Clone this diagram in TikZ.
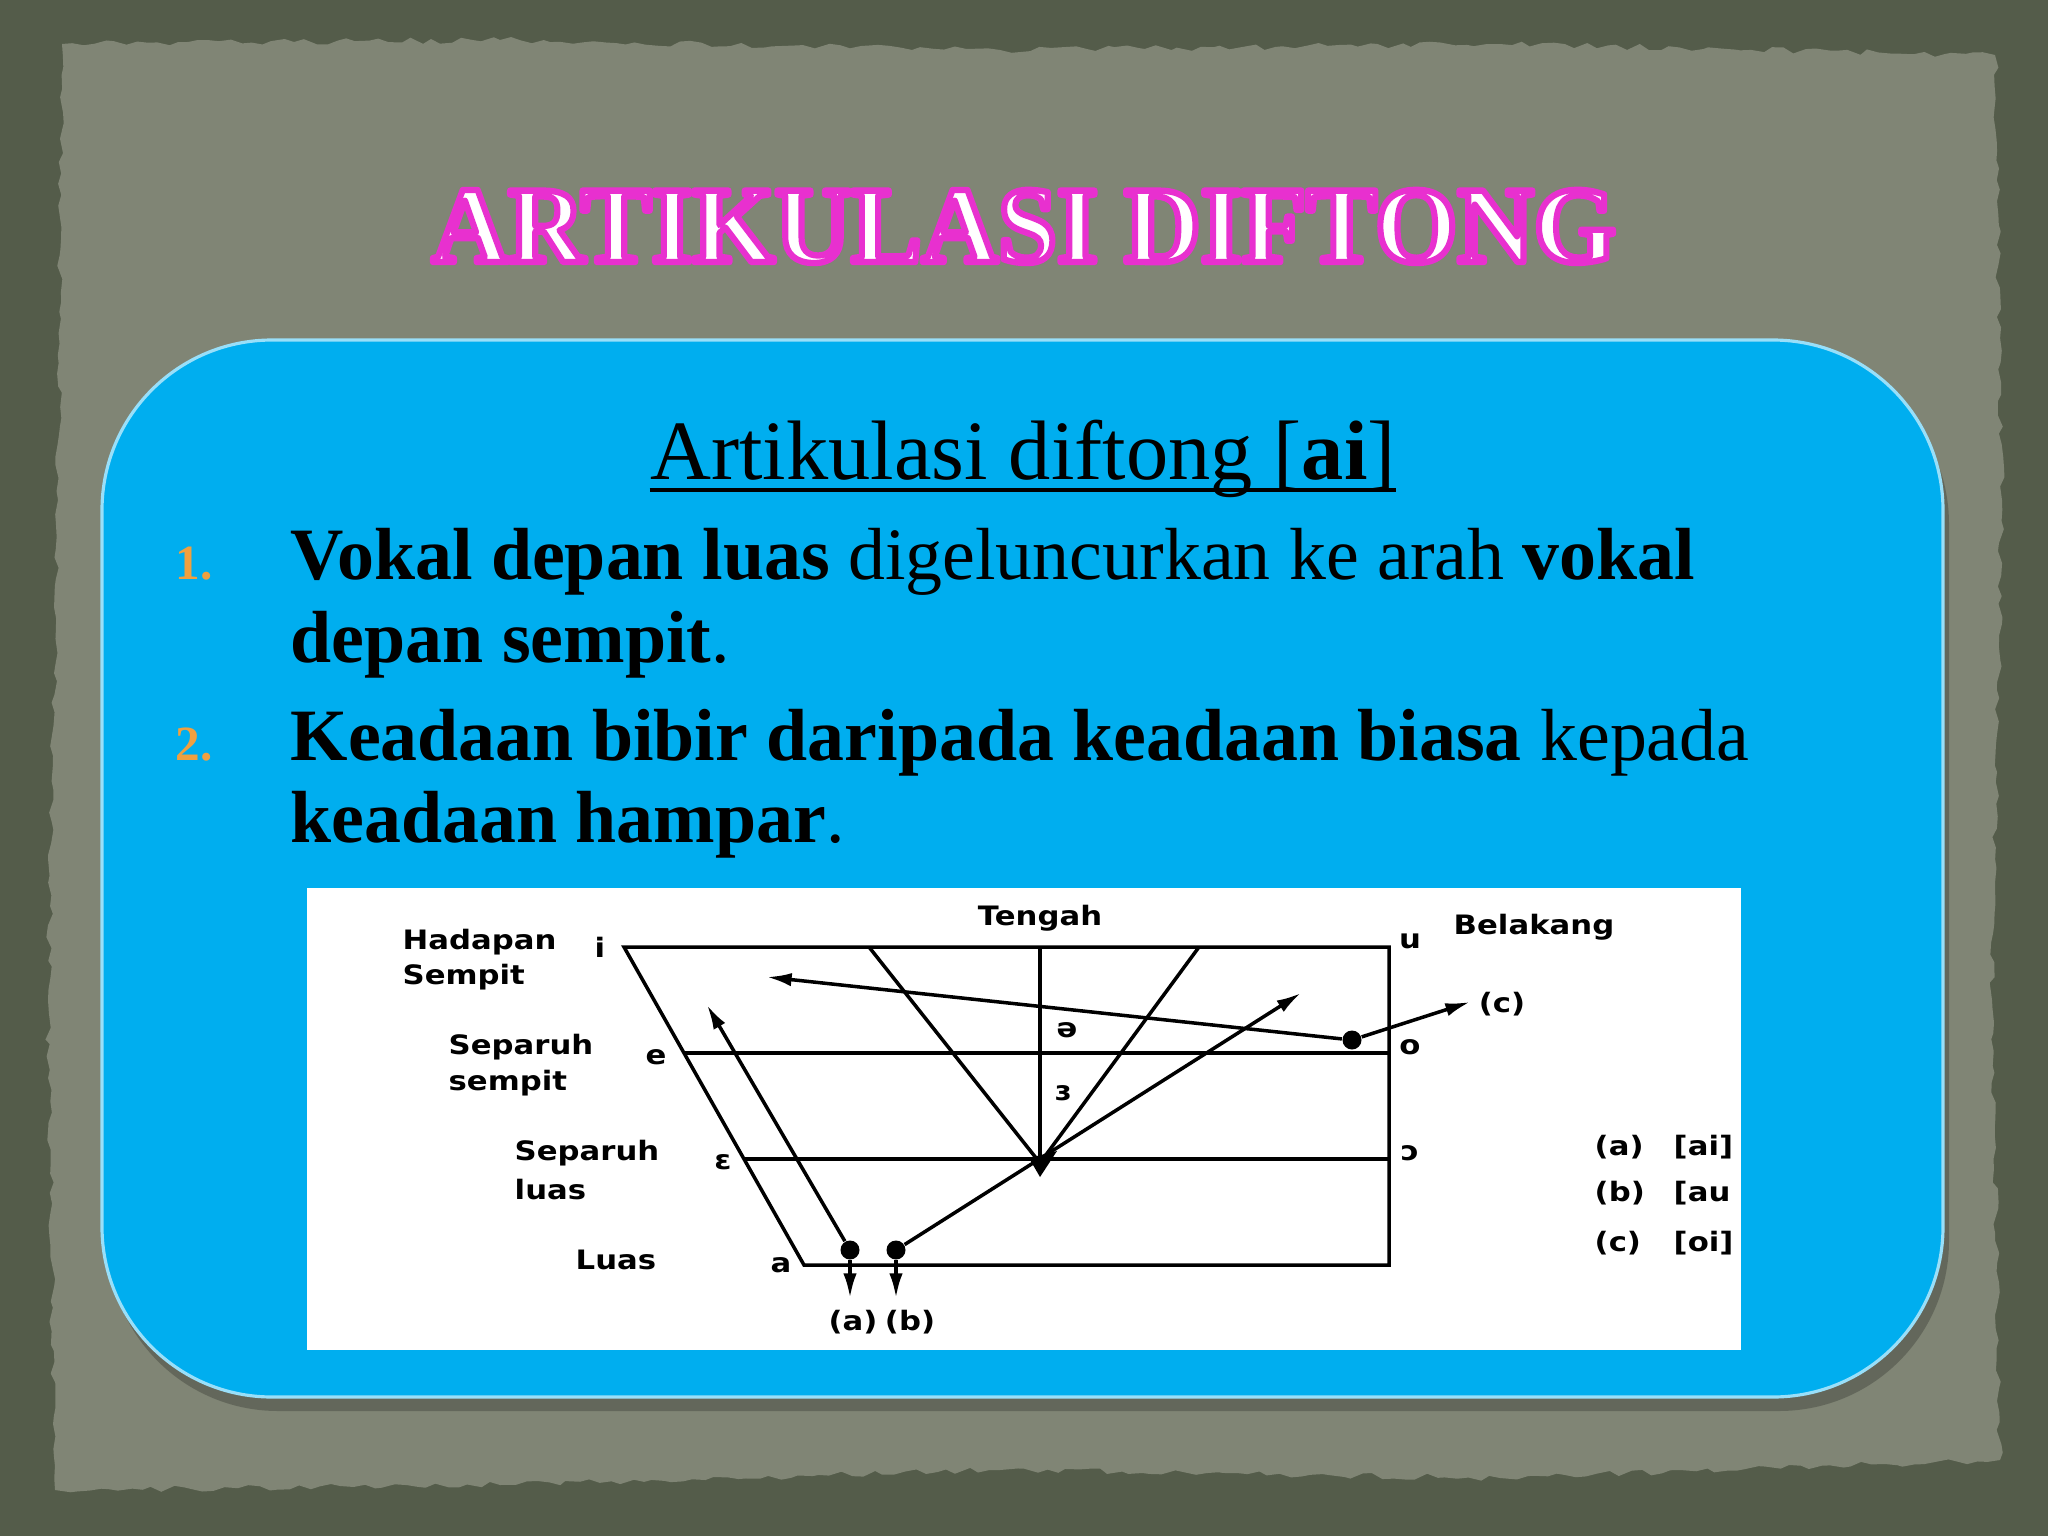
\documentclass[tikz,border=0pt]{standalone}
\usepackage{fontspec}
\setmainfont{Liberation Serif}
\newfontfamily\diagfont[FakeStretch=1.15]{DejaVu Sans}
\usetikzlibrary{arrows.meta,decorations.pathmorphing,positioning}

\definecolor{outerbg}{RGB}{84,92,74}
\definecolor{paper}{RGB}{128,133,117}
\definecolor{boxblue}{RGB}{0,174,239}
\definecolor{titlepink}{RGB}{232,48,206}
\definecolor{numorange}{RGB}{240,160,64}

% pink outline round white letters, one text only
\newcommand{\outlined}[1]{\special{pdf:literal direct 1 j 1.8 w 0.91 0.19 0.81 RG 2 Tr}#1\special{pdf:literal direct 0 Tr 0.4 w}}

\tikzset{
  titletxt/.style={anchor=base, inner sep=0pt, font=\fontsize{31}{35}\selectfont\bfseries},
  body/.style={anchor=base west, inner sep=0pt, font=\fontsize{21}{25}\selectfont},
  num/.style={anchor=base west, inner sep=0pt, text=numorange, font=\fontsize{14}{16}\selectfont\bfseries},
  lbl/.style={inner sep=0pt, font=\diagfont\bfseries\fontsize{7.6}{9}\selectfont},
  vline/.style={line width=1pt},
  arr/.style={line width=1pt, -{Latex[length=7pt,width=3.8pt]}},
  dot/.style={circle, fill=black, inner sep=0pt, minimum size=5.4pt}
}

\begin{document}
\begin{tikzpicture}[x=0.01cm, y=-0.01cm]
  \useasboundingbox (0,0) rectangle (2048,1536);
  \fill[outerbg] (0,0) rectangle (2048,1536);
  \pgfmathsetseed{7}
  \fill[paper, decorate, decoration={random steps, segment length=3pt, amplitude=0.9pt}]
    (62,44) -- (500,40) -- (1000,50) -- (1500,44) -- (1995,55) -- (2002,500) -- (1992,1000)
    -- (2000,1460) -- (1500,1478) -- (1000,1470) -- (500,1485) -- (55,1490) -- (48,1000)
    -- (58,500) -- cycle;

  % title
  \node[titletxt, text=white, xscale=0.97] (title) at (1024,262) {\outlined{ARTIKULASI DIFTONG}};

  % blue panel
  \fill[black, opacity=0.22, rounded corners=1.7cm] (108,354) rectangle (1949,1411);
  \draw[fill=boxblue, draw=boxblue!40!white, line width=0.9pt, rounded corners=1.7cm]
    (102,340) rectangle (1943,1397);

  \node[anchor=base, inner sep=0pt, font=\fontsize{24}{28}\selectfont] (sub) at (1023,479)
    {Artikulasi diftong [\textbf{ai}]};
  \draw[line width=1pt] ([yshift=-3.1pt]sub.base west) -- ([yshift=-3.1pt]sub.base east);

  \node[num] (n1) at (175,579) {1.};
  \node[body] (l1) at (290,579) {\textbf{Vokal depan luas} digeluncurkan ke arah \textbf{vokal}};
  \node[body] (l2) at (290,662) {\textbf{depan sempit}.};
  \node[num] (n2) at (175,760) {2.};
  \node[body] (l3) at (290,760) {\textbf{Keadaan bibir daripada keadaan biasa} kepada};
  \node[body] (l4) at (290,842) {\textbf{keadaan hampar}.};

  % vowel chart
  \fill[white] (307,888) rectangle (1741,1350);
  \coordinate (i) at (624,947);
  \coordinate (u) at (1389,947);
  \coordinate (a) at (804,1265);
  \coordinate (ar) at (1389,1265);
  \coordinate (e) at (684,1053);
  \coordinate (o) at (1389,1053);
  \coordinate (eps) at (744,1159);
  \coordinate (oo) at (1389,1159);
  \coordinate (mt) at (1040,947);
  \coordinate (mb) at (1040,1163);
  \coordinate (vl) at (869,947);
  \coordinate (vr) at (1199,947);
  \draw[vline] (i) -- (u) -- (ar) -- (a) -- cycle;
  \draw[vline] (e) -- (o);
  \draw[vline] (eps) -- (oo);
  \draw[vline] (mt) -- (mb);
  \draw[vline] (vl) -- (mb) -- (vr);
  \fill (1029,1158) -- (1057,1151) -- (1040,1177) -- cycle;

  \node[dot] (da) at (850,1250) {};
  \node[dot] (db) at (896,1250) {};
  \node[dot] (dc) at (1352,1040) {};
  \coordinate (ta) at (707,1005);
  \coordinate (tb) at (1301,993);
  \coordinate (tc) at (767,977);
  \coordinate (tcc) at (1470,1002);
  \coordinate (ba) at (850,1298);
  \coordinate (bb) at (896,1298);
  \draw[arr] (da) -- (ta);
  \draw[arr] (db) -- (tb);
  \draw[arr] (dc) -- (tc);
  \draw[arr] (dc) -- (tcc);
  \draw[arr] (da) -- (ba);
  \draw[arr] (db) -- (bb);

  \node[lbl] (lTengah) at (1040,918) {Tengah};
  \node[lbl] (lBelakang) at (1534,927) {Belakang};
  \node[lbl, anchor=west] (lHadapan) at (402,942) {Hadapan};
  \node[lbl, anchor=west] (lSempit) at (402,977) {Sempit};
  \node[lbl, anchor=west] (lSep1) at (448,1047) {Separuh};
  \node[lbl, anchor=west] (lsem) at (448,1083) {sempit};
  \node[lbl, anchor=west] (lSep2) at (514,1153) {Separuh};
  \node[lbl, anchor=west] (lluas) at (514,1190) {luas};
  \node[lbl, anchor=west] (lLuas) at (575,1260) {Luas};
  \node[lbl] (li) at (600,947) {i};
  \node[lbl] (lu) at (1410,941) {u};
  \node[lbl] (le) at (656,1057) {e};
  \node[lbl] (lo) at (1410,1047) {o};
  \node[lbl] (leps) at (723,1162) {ɛ};
  \node[lbl] (lopen) at (1410,1153) {ɔ};
  \node[lbl] (la) at (781,1265) {a};
  \node[lbl] (lschwa) at (1067,1030) {ə};
  \node[lbl] (lrev) at (1063,1093) {ɜ};
  \node[lbl] (lc) at (1502,1004) {(c)};
  \node[lbl] (lA) at (853,1322) {(a)};
  \node[lbl] (lB) at (910,1322) {(b)};

  \node[lbl, anchor=west] (ka) at (1594,1147) {(a)};
  \node[lbl, anchor=west] (kai) at (1673,1147) {[ai]};
  \node[lbl, anchor=west] (kb) at (1594,1193) {(b)};
  \node[lbl, anchor=west] (kau) at (1673,1193) {[au};
  \node[lbl, anchor=west] (kc) at (1594,1243) {(c)};
  \node[lbl, anchor=west] (koi) at (1673,1243) {[oi]};
\end{tikzpicture}
\end{document}
